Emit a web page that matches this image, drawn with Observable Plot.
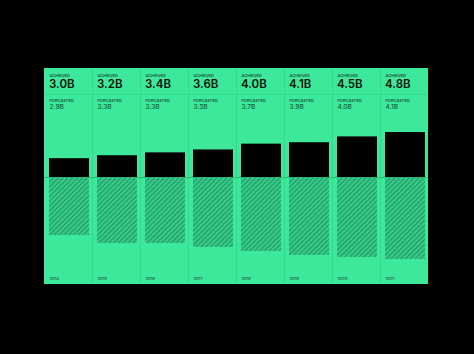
<!DOCTYPE html>
<html>
<head>
<meta charset="utf-8">
<script src="https://cdn.jsdelivr.net/npm/d3@7"></script>
<script src="https://cdn.jsdelivr.net/npm/@observablehq/plot@0.6"></script>
<style>
  html, body { margin: 0; padding: 0; background: #000; }
  body { width: 474px; height: 354px; position: relative; overflow: hidden; font-family: Inter, "Liberation Sans", sans-serif; }
  #panel { position: absolute; left: 44px; top: 68px; width: 384px; height: 216px; background: #3ee89a; }
  #panel svg { display: block; }
  #sep { position: absolute; left: 0; top: 26px; width: 384px; height: 0; border-top: 1px solid #38d88f; }
</style>
</head>
<body>
<div id="panel"><div id="sep"></div></div>
<script>
const years = ["2014", "2015", "2016", "2017", "2018", "2019", "2020", "2021"];
const achieved = [3.0, 3.2, 3.4, 3.6, 4.0, 4.1, 4.5, 4.8];
const forecasted = [2.9, 3.3, 3.3, 3.5, 3.7, 3.9, 4.0, 4.1];
const achievedLabel = "ACHIEVED";
const forecastLabel = "FORCASTED";

const data = years.map((y, i) => ({ i, year: y, a: achieved[i], f: forecasted[i] }));
const fmt = v => v.toFixed(1) + "B";

const divider = "#38d78f";
const ink = "#04110b";
const soft = "#17583a";
const achievedBase = 1.7;
const font = "Inter, 'Liberation Sans', sans-serif";

const topChart = Plot.plot({
  width: 384, height: 109, margin: 0,
  x: { domain: [0, 8], axis: null },
  y: { domain: [achievedBase, achievedBase + 109 / 14.5], axis: null },
  style: { background: "transparent", fontFamily: font, overflow: "visible" },
  marks: [
    Plot.ruleX(d3.range(1, 8), { stroke: divider, strokeWidth: 1 }),
    Plot.rect(data, { x1: "i", x2: d => d.i + 1, y1: () => achievedBase, y2: "a", fill: "#000", insetLeft: 5, insetRight: 3 }),
    Plot.text(data, { x: "i", text: () => achievedLabel, frameAnchor: "top", lineAnchor: "top", textAnchor: "start", dx: 5, dy: 6, fontSize: 4, fontWeight: 600, fill: soft }),
    Plot.text(data, { x: "i", text: d => fmt(d.a), frameAnchor: "top", lineAnchor: "top", textAnchor: "start", dx: 4.5, dy: 11.5, fontSize: 11.5, fontWeight: 600, fill: ink }),
    Plot.text(data, { x: "i", text: () => forecastLabel, frameAnchor: "top", lineAnchor: "top", textAnchor: "start", dx: 5, dy: 31, fontSize: 4, fontWeight: 600, fill: soft }),
    Plot.text(data, { x: "i", text: d => fmt(d.f), frameAnchor: "top", lineAnchor: "top", textAnchor: "start", dx: 5, dy: 36, fontSize: 6.5, fontWeight: 500, fill: soft })
  ]
});

const bottomChart = Plot.plot({
  width: 384, height: 107, margin: 0,
  x: { domain: [0, 8], axis: null },
  y: { domain: [0, 107 / 20], reverse: true, axis: null },
  style: { background: "transparent", fontFamily: font, overflow: "visible" },
  marks: [
    Plot.ruleX(d3.range(1, 8), { stroke: divider, strokeWidth: 1 }),
    Plot.rect(data, { x1: "i", x2: d => d.i + 1, y1: () => 0, y2: "f", fill: "url(#hatch)", insetLeft: 5, insetRight: 3 }),
    Plot.ruleY([0], { stroke: "#2eb677", strokeWidth: 1 }),
    Plot.text(data, { x: "i", text: "year", frameAnchor: "bottom", lineAnchor: "bottom", textAnchor: "start", dx: 5, dy: -5, fontSize: 4, fontWeight: 500, fill: soft })
  ]
});

// hatch pattern
const ns = "http://www.w3.org/2000/svg";
const defs = document.createElementNS(ns, "defs");
defs.innerHTML = `<pattern id="hatch" width="3.4" height="3.4" patternUnits="userSpaceOnUse" patternTransform="rotate(45)">
  <rect width="3.4" height="3.4" fill="#36cc8a"></rect>
  <line x1="0.6" y1="0" x2="0.6" y2="3.4" stroke="#23955f" stroke-width="1.1"></line>
</pattern>`;
bottomChart.insertBefore(defs, bottomChart.firstChild);

const panel = document.getElementById("panel");
panel.appendChild(topChart);
panel.appendChild(bottomChart);
</script>
</body>
</html>
